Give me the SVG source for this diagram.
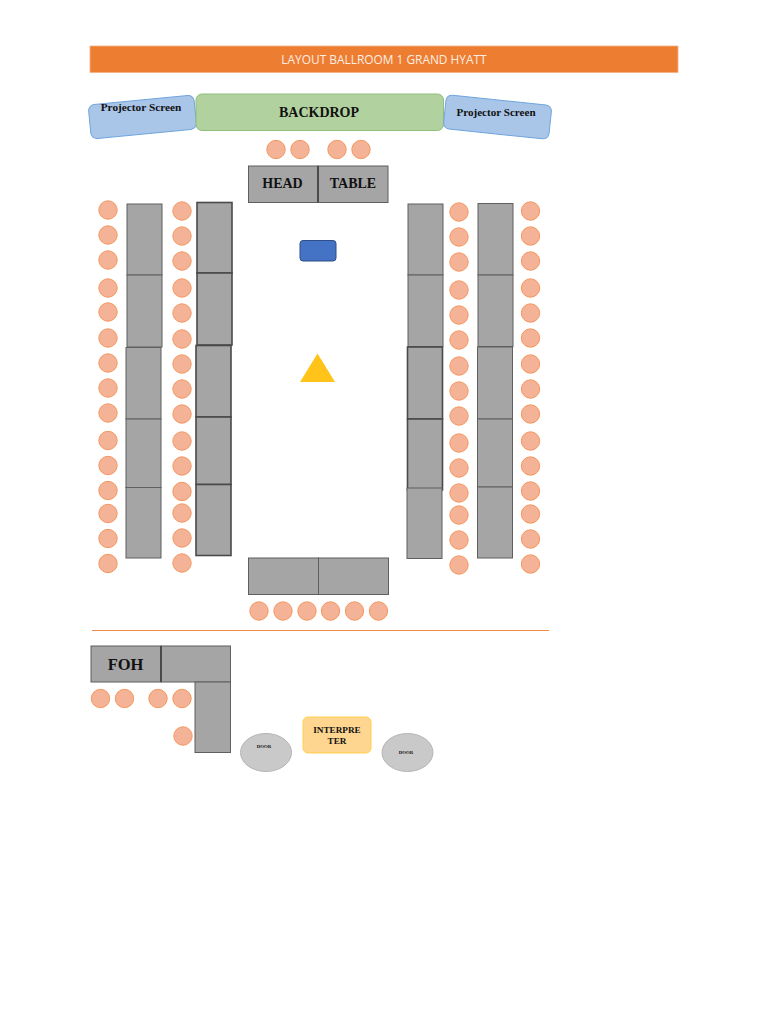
<svg xmlns="http://www.w3.org/2000/svg" width="768" height="1024" viewBox="0 0 768 1024">
<style>
text{font-family:"Liberation Serif","Times New Roman",serif;font-weight:bold;fill:#111;text-anchor:middle}
.c{fill:#f4b297;stroke:#f4985f;stroke-width:1}
.t{fill:#a5a5a5;stroke:#5f5f5f;stroke-width:1}
.h{fill:#a5a5a5;stroke:#4a4a4a;stroke-width:1.600}
.s{fill:#a9c5e8;stroke:#6fa5dc;stroke-width:1}
.d{fill:#c9c9c9;stroke:#b5b5b5;stroke-width:1}
</style>
<defs><circle id="ch" r="9.2" class="c"/></defs>
<g id="title"><rect x="90" y="46" width="588" height="26.500" fill="#ed7d31" stroke="#f4b183" stroke-width="0.800"/><text x="384" y="64" font-size="11.900" style="font-family:'Open Sans','Liberation Sans',sans-serif;font-weight:normal;fill:#fdeee4">LAYOUT BALLROOM 1 GRAND HYATT</text></g>
<g id="screen-left"><rect x="89.500" y="100" width="106" height="34" rx="6" class="s" transform="rotate(-5.500 142.500 117)"/><text x="141" y="111" font-size="11.300">Projector Screen</text></g>
<g id="backdrop"><rect x="196" y="94" width="247.500" height="36.500" rx="6" fill="#b1d19f" stroke="#8fbf78"/><text x="319" y="117" font-size="14">BACKDROP</text></g>
<g id="screen-right"><rect x="444.500" y="100" width="106" height="34" rx="6" class="s" transform="rotate(6 497.500 117)"/><text x="496" y="116" font-size="11.100">Projector Screen</text></g>
<g id="head-table"><rect x="248.500" y="166" width="69.500" height="36.500" class="t"/><rect x="318" y="166" width="70" height="36.500" class="t"/><path d="M318 166V202.500" stroke="#4a4a4a" stroke-width="2"/><text x="282.500" y="188" font-size="14">HEAD</text><text x="353" y="188" font-size="14">TABLE</text></g>
<g id="bottom-table"><rect x="248.500" y="558" width="70" height="36.500" class="t"/><rect x="318.500" y="558" width="70" height="36.500" class="t"/></g>
<g id="tables-a"><rect x="127" y="204" width="35" height="71" class="t"/><rect x="127" y="275" width="35" height="72" class="t"/><rect x="126" y="347.500" width="35" height="71.500" class="t"/><rect x="126" y="419" width="35" height="68.500" class="t"/><rect x="126" y="487.500" width="35" height="70.500" class="t"/></g>
<g id="tables-b"><rect x="197" y="202.500" width="35" height="70.500" class="h"/><rect x="197" y="273" width="35" height="72" class="h"/><rect x="196" y="345.500" width="35" height="71.500" class="h"/><rect x="196" y="417" width="35" height="67.500" class="h"/><rect x="196" y="484.500" width="35" height="71" class="h"/></g>
<g id="tables-c"><rect x="408" y="204" width="35" height="71" class="t"/><rect x="408" y="275" width="35" height="71.500" class="t"/><rect x="407.500" y="347" width="35" height="72" class="h"/><rect x="407.500" y="419" width="35" height="71" class="h"/><rect x="407" y="488" width="35" height="70.500" class="t"/></g>
<g id="tables-d"><rect x="478" y="203.500" width="35" height="71.500" class="t"/><rect x="478" y="275" width="35" height="71.500" class="t"/><rect x="477.500" y="347" width="35" height="72" class="t"/><rect x="477.500" y="419" width="35" height="68" class="t"/><rect x="477.500" y="487" width="35" height="71" class="t"/></g>
<g id="podium"><rect x="300" y="240.500" width="36" height="20.500" rx="3" fill="#4472c4" stroke="#2f4f86"/></g>
<g id="triangle"><path d="M317.500 353.500L335 382H300Z" fill="#ffc31a"/></g>
<g id="chairs-top"><use href="#ch" x="276" y="149.500"/><use href="#ch" x="300" y="149.500"/><use href="#ch" x="337" y="149.500"/><use href="#ch" x="361" y="149.500"/></g>
<g id="chairs-a"><use href="#ch" x="108" y="210"/><use href="#ch" x="108" y="235"/><use href="#ch" x="108" y="260"/><use href="#ch" x="108" y="288"/><use href="#ch" x="108" y="312"/><use href="#ch" x="108" y="338"/><use href="#ch" x="108" y="363"/><use href="#ch" x="108" y="388"/><use href="#ch" x="108" y="413"/><use href="#ch" x="108" y="440.500"/><use href="#ch" x="108" y="465.500"/><use href="#ch" x="108" y="490.500"/><use href="#ch" x="108" y="513.500"/><use href="#ch" x="108" y="538.500"/><use href="#ch" x="108" y="563.500"/></g>
<g id="chairs-b"><use href="#ch" x="182" y="211"/><use href="#ch" x="182" y="236"/><use href="#ch" x="182" y="261"/><use href="#ch" x="182" y="288"/><use href="#ch" x="182" y="313"/><use href="#ch" x="182" y="339"/><use href="#ch" x="182" y="364"/><use href="#ch" x="182" y="389"/><use href="#ch" x="182" y="414"/><use href="#ch" x="182" y="441"/><use href="#ch" x="182" y="466"/><use href="#ch" x="182" y="491.500"/><use href="#ch" x="182" y="513"/><use href="#ch" x="182" y="538"/><use href="#ch" x="182" y="563"/></g>
<g id="chairs-c"><use href="#ch" x="459" y="212"/><use href="#ch" x="459" y="237"/><use href="#ch" x="459" y="262"/><use href="#ch" x="459" y="290"/><use href="#ch" x="459" y="315"/><use href="#ch" x="459" y="340"/><use href="#ch" x="459" y="366"/><use href="#ch" x="459" y="391"/><use href="#ch" x="459" y="416"/><use href="#ch" x="459" y="443"/><use href="#ch" x="459" y="468"/><use href="#ch" x="459" y="493"/><use href="#ch" x="459" y="515"/><use href="#ch" x="459" y="540"/><use href="#ch" x="459" y="565"/></g>
<g id="chairs-d"><use href="#ch" x="530.500" y="211"/><use href="#ch" x="530.500" y="236"/><use href="#ch" x="530.500" y="261"/><use href="#ch" x="530.500" y="288"/><use href="#ch" x="530.500" y="313"/><use href="#ch" x="530.500" y="338"/><use href="#ch" x="530.500" y="364"/><use href="#ch" x="530.500" y="389"/><use href="#ch" x="530.500" y="414"/><use href="#ch" x="530.500" y="441"/><use href="#ch" x="530.500" y="466"/><use href="#ch" x="530.500" y="491"/><use href="#ch" x="530.500" y="514"/><use href="#ch" x="530.500" y="539"/><use href="#ch" x="530.500" y="564"/></g>
<g id="chairs-bottom"><use href="#ch" x="259" y="611"/><use href="#ch" x="283" y="611"/><use href="#ch" x="307" y="611"/><use href="#ch" x="330.500" y="611"/><use href="#ch" x="354.500" y="611"/><use href="#ch" x="378.500" y="611"/></g>
<g id="divider"><path d="M92 630.500H549" stroke="#f08a4b" stroke-width="1"/></g>
<g id="foh"><rect x="91" y="646" width="70" height="36" class="t"/><rect x="161" y="646" width="69.500" height="36" class="t"/><rect x="195" y="682" width="35.500" height="70.500" class="t"/><path d="M161 646V682" stroke="#4a4a4a" stroke-width="2"/><text x="125.500" y="670" font-size="16.500">FOH</text></g>
<g id="chairs-foh"><use href="#ch" x="100.500" y="698.500"/><use href="#ch" x="124.500" y="698.500"/><use href="#ch" x="158" y="698.500"/><use href="#ch" x="182" y="698.500"/><use href="#ch" x="183" y="736"/></g>
<g id="door-left"><ellipse cx="266" cy="752.500" rx="25.500" ry="19" class="d"/><text x="264" y="748" font-size="4.800">DOOR</text></g>
<g id="interpreter"><rect x="303" y="717" width="68" height="36" rx="5" fill="#ffd68f" stroke="#ffcf4d"/><text x="337" y="733" font-size="9.200">INTERPRE</text><text x="337" y="744" font-size="9.200">TER</text></g>
<g id="door-right"><ellipse cx="407.500" cy="752.500" rx="25.500" ry="19" class="d"/><text x="406" y="754" font-size="4.800">DOOR</text></g>
</svg>
